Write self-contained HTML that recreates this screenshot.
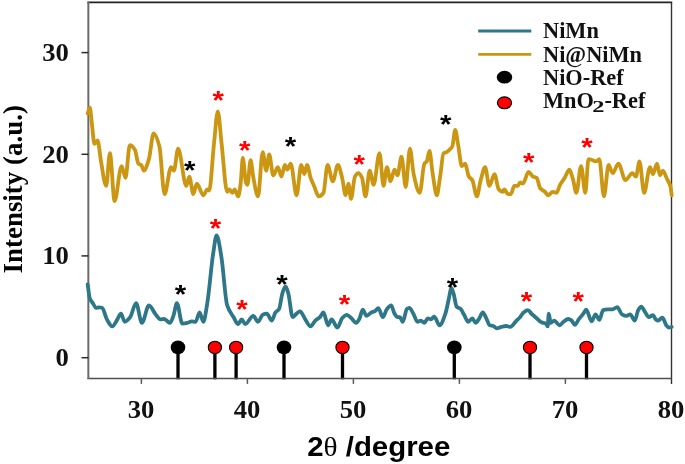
<!DOCTYPE html>
<html><head><meta charset="utf-8"><title>XRD</title>
<style>
html,body{margin:0;padding:0;background:#fff;}
svg{display:block}
text{font-family:"Liberation Serif",serif;font-weight:bold}
.sans{font-family:"Liberation Sans",sans-serif}
</style></head><body>
<svg width="685" height="464" viewBox="0 0 685 464">
<rect width="685" height="464" fill="#fff"/>
<g>
<line x1="178.0" y1="352" x2="178.0" y2="379.3" stroke="#000" stroke-width="3.3"/>
<ellipse cx="178.0" cy="347.4" rx="7.3" ry="6.8" fill="#000"/>
<line x1="214.9" y1="352" x2="214.9" y2="379.3" stroke="#000" stroke-width="3.3"/>
<ellipse cx="214.9" cy="347.4" rx="6.6" ry="6.2" fill="#f00" stroke="#000" stroke-width="1.1"/>
<line x1="236.1" y1="352" x2="236.1" y2="379.3" stroke="#000" stroke-width="3.3"/>
<ellipse cx="236.1" cy="347.4" rx="6.6" ry="6.2" fill="#f00" stroke="#000" stroke-width="1.1"/>
<line x1="284.0" y1="352" x2="284.0" y2="379.3" stroke="#000" stroke-width="3.3"/>
<ellipse cx="284.0" cy="347.4" rx="7.3" ry="6.8" fill="#000"/>
<line x1="342.5" y1="352" x2="342.5" y2="379.3" stroke="#000" stroke-width="3.3"/>
<ellipse cx="342.5" cy="347.4" rx="6.6" ry="6.2" fill="#f00" stroke="#000" stroke-width="1.1"/>
<line x1="454.3" y1="352" x2="454.3" y2="379.3" stroke="#000" stroke-width="3.3"/>
<ellipse cx="454.3" cy="347.4" rx="7.3" ry="6.8" fill="#000"/>
<line x1="530.0" y1="352" x2="530.0" y2="379.3" stroke="#000" stroke-width="3.3"/>
<ellipse cx="530.0" cy="347.4" rx="6.6" ry="6.2" fill="#f00" stroke="#000" stroke-width="1.1"/>
<line x1="586.5" y1="352" x2="586.5" y2="379.3" stroke="#000" stroke-width="3.3"/>
<ellipse cx="586.5" cy="347.4" rx="6.6" ry="6.2" fill="#f00" stroke="#000" stroke-width="1.1"/>
<line x1="87.4" y1="2.4" x2="672.2" y2="2.4" stroke="#222" stroke-width="1.6"/>
<line x1="671.5" y1="2.4" x2="671.5" y2="383.9" stroke="#333" stroke-width="1.4"/>
<line x1="87.4" y1="378.45" x2="671.5" y2="378.45" stroke="#505050" stroke-width="1.4"/>
<line x1="88.35" y1="1.8" x2="88.35" y2="379.1" stroke="#6a6a6a" stroke-width="2"/>
<line x1="141.4" y1="378.3" x2="141.4" y2="383.9" stroke="#5a5a5a" stroke-width="1.5"/>
<line x1="247.4" y1="378.3" x2="247.4" y2="383.9" stroke="#5a5a5a" stroke-width="1.5"/>
<line x1="353.4" y1="378.3" x2="353.4" y2="383.9" stroke="#5a5a5a" stroke-width="1.5"/>
<line x1="459.4" y1="378.3" x2="459.4" y2="383.9" stroke="#5a5a5a" stroke-width="1.5"/>
<line x1="565.4" y1="378.3" x2="565.4" y2="383.9" stroke="#5a5a5a" stroke-width="1.5"/>
<line x1="81.5" y1="357.7" x2="88.4" y2="357.7" stroke="#2a2a2a" stroke-width="1.5"/>
<line x1="81.5" y1="255.9" x2="88.4" y2="255.9" stroke="#2a2a2a" stroke-width="1.5"/>
<line x1="81.5" y1="154.3" x2="88.4" y2="154.3" stroke="#2a2a2a" stroke-width="1.5"/>
<line x1="81.5" y1="52.6" x2="88.4" y2="52.6" stroke="#2a2a2a" stroke-width="1.5"/>
<path d="M87.7 113.5C88.4 111.6 89.1 107.7 89.8 107.7C90.4 107.7 91.1 116.9 91.7 121.7C92.6 128.9 93.5 143.9 94.5 143.9C95.5 143.9 96.5 140.4 97.5 140.4C98.7 140.4 99.9 155.1 101.0 161.4C102.7 170.6 104.4 185.9 106.2 185.9C107.4 185.9 108.7 153.2 109.9 153.2C111.5 153.2 113.0 201.1 114.6 201.1C116.9 201.1 119.2 166.1 121.6 166.1C122.9 166.1 124.2 177.8 125.5 177.8C126.9 177.8 128.4 145.1 129.8 145.1C131.5 145.1 133.2 147.1 134.9 149.7C136.1 151.5 137.2 162.9 138.4 163.7C139.3 164.4 140.3 164.2 141.2 164.9C142.1 165.5 142.9 170.7 143.8 170.7C145.5 170.7 147.2 164.6 148.9 159.1C150.5 154.0 152.0 133.4 153.6 133.4C155.5 133.4 157.5 139.2 159.4 146.2C161.1 152.4 162.8 194.1 164.6 194.1C166.7 194.1 168.9 167.2 171.1 167.2C172.0 167.2 173.0 170.7 173.9 170.7C175.3 170.7 176.7 148.6 178.1 148.6C180.8 148.6 183.6 185.9 186.3 185.9C187.3 185.9 188.3 176.6 189.3 176.6C190.6 176.6 192.0 194.1 193.3 194.1C194.5 194.1 195.6 183.6 196.8 183.6C199.0 183.6 201.1 195.3 203.3 195.3C204.7 195.3 206.0 189.4 207.3 189.4C207.9 189.4 208.5 190.6 209.2 190.6C210.8 190.6 212.4 157.4 214.1 142.7C215.3 131.5 216.6 111.4 217.8 111.4C219.1 111.4 220.3 132.1 221.5 142.7C223.4 158.7 225.3 191.8 227.2 191.8C227.9 191.8 228.7 189.4 229.5 189.4C230.4 189.4 231.4 192.9 232.3 192.9C233.1 192.9 233.9 189.4 234.7 189.4C235.8 189.4 237.0 196.4 238.2 196.4C239.0 196.4 239.7 190.2 240.5 184.8C241.3 179.3 242.1 157.9 242.8 157.9C243.9 157.9 244.9 180.1 245.9 182.4C246.4 183.7 247.0 184.8 247.5 184.8C248.5 184.8 249.5 160.2 250.6 160.2C251.5 160.2 252.4 173.1 253.4 177.8C254.9 185.5 256.5 196.4 258.0 196.4C259.6 196.4 261.1 152.1 262.7 152.1C263.9 152.1 265.0 170.7 266.2 170.7C267.2 170.7 268.2 154.4 269.2 154.4C270.6 154.4 271.9 175.4 273.2 175.4C274.8 175.4 276.3 167.2 277.9 167.2C279.1 167.2 280.2 176.6 281.4 176.6C282.6 176.6 283.7 164.9 284.9 164.9C285.7 164.9 286.4 169.6 287.2 169.6C288.4 169.6 289.6 163.7 290.7 163.7C292.7 163.7 294.6 195.3 296.6 195.3C298.1 195.3 299.7 164.9 301.2 164.9C302.3 164.9 303.3 174.2 304.3 174.2C305.2 174.2 306.1 164.9 307.1 164.9C308.2 164.9 309.4 174.4 310.6 177.8C311.8 181.1 312.9 183.2 314.1 185.9C315.6 189.5 317.2 196.4 318.8 196.4C320.3 196.4 321.9 195.1 323.4 192.9C324.8 191.0 326.2 164.9 327.6 164.9C329.3 164.9 331.1 181.3 332.8 181.3C334.5 181.3 336.2 164.9 337.9 164.9C339.3 164.9 340.7 172.4 342.1 177.8C343.3 182.2 344.5 195.3 345.6 195.3C346.6 195.3 347.5 183.6 348.4 183.6C349.3 183.6 350.1 198.8 351.0 198.8C352.3 198.8 353.6 178.8 355.0 176.6C356.1 174.6 357.3 173.1 358.5 173.1C359.6 173.1 360.8 175.3 362.0 177.8C363.1 180.2 364.3 196.4 365.5 196.4C366.9 196.4 368.3 170.7 369.7 170.7C371.0 170.7 372.3 184.8 373.6 184.8C375.6 184.8 377.5 153.2 379.5 153.2C380.8 153.2 382.2 185.9 383.5 185.9C384.7 185.9 385.8 167.2 387.0 167.2C388.2 167.2 389.3 181.3 390.5 181.3C391.8 181.3 393.2 169.6 394.5 169.6C395.5 169.6 396.5 175.4 397.5 175.4C398.8 175.4 400.2 156.7 401.5 156.7C402.9 156.7 404.3 187.1 405.7 187.1C407.1 187.1 408.5 148.6 409.9 148.6C411.2 148.6 412.5 169.8 413.9 175.4C415.8 183.7 417.8 192.9 419.7 192.9C421.3 192.9 422.8 166.2 424.4 163.7C425.2 162.5 425.9 162.6 426.7 161.4C427.6 160.0 428.6 150.9 429.5 150.9C430.5 150.9 431.5 166.8 432.6 173.1C434.0 181.7 435.4 195.3 436.8 195.3C437.9 195.3 439.1 182.6 440.3 175.4C441.4 168.7 442.4 154.0 443.5 153.2C444.5 152.5 445.6 152.6 446.6 152.1C447.6 151.5 448.6 150.7 449.6 149.7C450.5 148.8 451.5 148.1 452.4 146.2C453.3 144.3 454.3 129.9 455.2 129.9C456.2 129.9 457.2 139.5 458.2 145.1C459.4 151.4 460.6 166.1 461.8 166.1C462.9 166.1 464.1 163.7 465.3 163.7C466.4 163.7 467.6 174.7 468.8 176.6C469.9 178.4 471.1 178.3 472.3 180.1C473.8 182.4 475.4 196.4 476.9 196.4C478.1 196.4 479.3 185.4 480.4 181.3C482.0 175.7 483.6 167.2 485.1 167.2C486.5 167.2 487.9 185.9 489.3 185.9C491.0 185.9 492.7 174.2 494.5 174.2C495.9 174.2 497.3 188.0 498.7 189.4C500.0 190.8 501.3 191.8 502.6 191.8C503.2 191.8 503.7 189.4 504.3 189.4C505.5 189.4 506.8 194.1 508.0 194.1C508.9 194.1 509.9 194.1 510.8 194.1C512.0 194.1 513.1 185.9 514.3 185.9C515.5 185.9 516.6 185.9 517.8 185.9C518.6 185.9 519.4 182.4 520.1 182.4C521.1 182.4 522.0 183.6 522.9 183.6C524.8 183.6 526.7 171.9 528.5 171.9C530.1 171.9 531.6 175.8 533.2 176.6C534.3 177.2 535.5 177.1 536.7 177.8C537.8 178.5 539.0 186.8 540.2 188.3C541.7 190.2 543.3 190.4 544.9 191.8C546.0 192.8 547.2 195.3 548.4 195.3C549.8 195.3 551.2 191.8 552.6 191.8C553.9 191.8 555.2 192.9 556.5 192.9C557.7 192.9 558.9 186.9 560.0 184.8C561.6 181.9 563.2 180.3 564.7 177.8C566.3 175.2 567.8 169.6 569.4 169.6C570.5 169.6 571.7 175.2 572.9 178.9C574.1 182.7 575.2 192.9 576.4 192.9C577.9 192.9 579.5 166.1 581.1 166.1C582.5 166.1 583.9 192.9 585.3 192.9C586.4 192.9 587.4 159.1 588.5 159.1C589.9 159.1 591.3 159.8 592.7 160.2C593.9 160.6 595.1 161.4 596.2 161.4C597.3 161.4 598.3 159.1 599.3 159.1C600.8 159.1 602.4 196.4 603.9 196.4C605.5 196.4 607.1 164.9 608.6 164.9C609.9 164.9 611.3 173.1 612.6 173.1C614.5 173.1 616.5 163.7 618.4 163.7C620.8 163.7 623.1 180.1 625.4 180.1C627.8 180.1 630.1 173.1 632.4 173.1C633.6 173.1 634.8 176.6 635.9 176.6C637.1 176.6 638.3 161.4 639.5 161.4C641.0 161.4 642.6 192.9 644.1 192.9C646.1 192.9 648.0 167.2 650.0 167.2C651.0 167.2 652.0 174.2 653.0 174.2C654.3 174.2 655.6 163.7 657.0 163.7C658.0 163.7 659.0 175.4 660.0 175.4C660.9 175.4 661.9 170.7 662.8 170.7C664.2 170.7 665.6 176.1 667.0 178.9C668.1 181.1 669.2 182.1 670.3 185.9C670.8 187.6 671.2 192.2 671.7 195.3" fill="none" stroke="#CB9712" stroke-width="3.8" stroke-linejoin="round" stroke-linecap="round"/>
<path d="M87.7 284.4C88.4 289.1 89.1 296.6 89.8 298.4C90.8 301.0 91.8 301.5 92.8 303.1C93.9 304.6 94.9 307.8 95.9 307.8C97.0 307.8 98.1 307.3 99.2 307.3C100.2 307.3 101.2 307.5 102.2 307.8C103.7 308.2 105.3 316.7 106.9 319.4C108.7 322.5 110.4 326.4 112.2 326.4C113.9 326.4 115.7 322.0 117.4 319.4C118.5 317.7 119.7 313.6 120.9 313.6C122.2 313.6 123.5 321.8 124.8 321.8C126.6 321.8 128.4 319.4 130.2 317.1C132.2 314.6 134.1 303.1 136.1 303.1C138.0 303.1 140.0 322.9 141.9 322.9C144.2 322.9 146.6 305.4 148.9 305.4C151.2 305.4 153.6 312.1 155.9 314.8C157.5 316.5 159.0 319.4 160.6 319.4C161.8 319.4 162.9 319.0 164.1 319.0C166.0 319.0 168.0 322.9 169.9 322.9C171.1 322.9 172.3 318.9 173.4 315.9C174.6 312.9 175.8 303.1 176.9 303.1C178.7 303.1 180.5 323.6 182.3 323.6C184.0 323.6 185.7 323.3 187.4 322.9C188.8 322.6 190.2 321.3 191.6 321.3C193.0 321.3 194.3 321.8 195.6 321.8C196.9 321.8 198.3 312.4 199.6 312.4C200.8 312.4 202.1 321.8 203.3 321.8C204.7 321.8 206.0 310.9 207.3 303.1C209.2 291.5 211.2 266.5 213.1 254.0C214.3 246.5 215.5 235.3 216.6 235.3C218.2 235.3 219.8 247.3 221.3 256.4C223.3 267.6 225.2 299.5 227.2 305.4C229.3 311.9 231.4 313.6 233.5 317.1C235.1 319.7 236.6 324.1 238.2 324.1C239.3 324.1 240.5 319.4 241.7 319.4C242.8 319.4 244.0 324.1 245.2 324.1C247.9 324.1 250.6 315.9 253.4 315.9C254.9 315.9 256.5 321.8 258.0 321.8C259.6 321.8 261.1 315.5 262.7 314.8C264.1 314.1 265.5 313.6 266.9 313.6C268.5 313.6 270.0 320.6 271.6 320.6C272.9 320.6 274.2 314.2 275.5 312.4C276.7 310.9 277.9 310.8 279.1 308.9C280.2 307.0 281.4 295.9 282.6 292.6C283.6 289.7 284.6 286.3 285.6 286.3C286.5 286.3 287.5 290.4 288.4 293.7C289.8 298.7 291.2 317.1 292.6 317.1C293.9 317.1 295.2 314.6 296.6 313.6C297.7 312.7 298.9 311.3 300.1 311.3C301.6 311.3 303.2 316.0 304.7 318.3C306.7 321.1 308.6 326.4 310.6 326.4C312.1 326.4 313.7 322.1 315.3 320.6C316.8 319.1 318.4 318.6 319.9 317.1C321.1 316.0 322.3 312.4 323.4 312.4C325.0 312.4 326.5 325.3 328.1 325.3C329.3 325.3 330.4 319.4 331.6 319.4C333.6 319.4 335.5 327.6 337.4 327.6C339.0 327.6 340.6 320.0 342.1 318.3C343.7 316.6 345.2 314.8 346.8 314.8C348.3 314.8 349.9 316.9 351.5 318.3C353.0 319.6 354.6 322.9 356.1 322.9C357.3 322.9 358.5 320.4 359.6 318.3C360.6 316.4 361.7 309.6 362.7 309.6C364.0 309.6 365.3 315.9 366.6 315.9C368.2 315.9 369.8 313.1 371.3 312.4C372.5 311.9 373.6 311.8 374.8 311.3C376.0 310.7 377.2 308.2 378.3 308.2C379.8 308.2 381.3 317.1 382.8 317.1C384.2 317.1 385.6 310.6 387.0 308.9C388.4 307.3 389.8 305.4 391.2 305.4C392.3 305.4 393.4 311.9 394.5 313.6C395.5 315.2 396.5 317.1 397.5 317.1C398.3 317.1 399.1 317.1 399.9 317.1C400.8 317.1 401.7 321.8 402.7 321.8C404.1 321.8 405.5 310.0 406.9 308.9C407.6 308.3 408.4 307.8 409.2 307.8C410.8 307.8 412.3 312.1 413.9 314.8C415.0 316.8 416.2 321.8 417.4 321.8C418.5 321.8 419.7 320.6 420.9 320.6C422.0 320.6 423.2 322.9 424.4 322.9C425.5 322.9 426.7 318.3 427.9 318.3C428.9 318.3 429.9 319.4 430.9 319.4C432.0 319.4 433.1 316.6 434.2 316.6C436.0 316.6 437.8 325.3 439.6 325.3C441.5 325.3 443.5 319.1 445.4 313.6C446.6 310.3 447.7 303.6 448.9 298.4C449.7 295.0 450.5 287.9 451.2 287.9C452.0 287.9 452.8 291.3 453.6 293.7C454.6 296.9 455.6 305.5 456.6 306.6C457.9 308.0 459.3 307.8 460.6 308.9C461.8 309.9 462.9 312.8 464.1 314.8C465.5 317.1 466.9 321.8 468.3 321.8C469.6 321.8 470.9 318.3 472.3 318.3C473.4 318.3 474.6 322.9 475.8 322.9C476.9 322.9 478.1 320.0 479.3 318.3C480.4 316.5 481.6 312.4 482.8 312.4C483.9 312.4 485.1 316.1 486.3 318.3C487.4 320.4 488.6 324.8 489.8 325.3C490.9 325.7 492.1 325.6 493.3 326.0C494.5 326.3 495.6 328.3 496.8 328.3C498.3 328.3 499.9 327.3 501.5 326.9C503.0 326.5 504.6 326.0 506.1 326.0C507.5 326.0 508.9 326.9 510.3 326.9C512.0 326.9 513.8 323.5 515.5 321.8C517.0 320.2 518.6 318.9 520.1 317.1C521.3 315.8 522.5 313.4 523.6 312.4C525.0 311.3 526.4 310.1 527.8 310.1C529.2 310.1 530.6 313.0 532.0 314.3C533.6 315.7 535.1 316.9 536.7 318.3C538.2 319.6 539.8 321.5 541.4 322.2C542.9 322.9 544.5 322.7 546.0 323.6C546.6 323.9 547.1 326.4 547.7 326.4C548.0 326.4 548.4 313.6 548.8 313.6C549.4 313.6 550.1 322.9 550.7 322.9C551.9 322.9 553.0 320.6 554.2 320.6C556.0 320.6 557.8 325.3 559.6 325.3C560.9 325.3 562.2 322.7 563.5 321.8C565.1 320.6 566.7 319.0 568.2 319.0C569.4 319.0 570.5 319.8 571.7 320.6C572.7 321.3 573.7 324.8 574.8 324.8C576.1 324.8 577.4 321.2 578.7 319.4C580.3 317.4 581.8 315.7 583.4 313.6C584.3 312.3 585.3 309.6 586.2 309.6C588.0 309.6 589.8 321.3 591.6 321.3C592.9 321.3 594.2 314.3 595.5 314.3C596.8 314.3 598.0 319.9 599.3 319.9C600.6 319.9 601.9 310.5 603.2 310.1C604.8 309.6 606.4 309.4 607.9 309.4C609.5 309.4 611.0 309.4 612.6 309.4C614.1 309.4 615.7 307.1 617.3 307.1C618.8 307.1 620.4 313.4 621.9 314.3C623.5 315.2 625.0 315.9 626.6 315.9C627.8 315.9 628.9 314.3 630.1 314.3C631.7 314.3 633.2 320.6 634.8 320.6C635.9 320.6 637.1 312.0 638.3 310.1C639.3 308.4 640.3 306.6 641.3 306.6C642.4 306.6 643.5 309.7 644.6 311.3C646.0 313.2 647.4 317.1 648.8 317.1C650.2 317.1 651.6 315.2 653.0 315.2C653.9 315.2 654.9 318.7 655.8 319.4C656.6 320.0 657.4 320.6 658.1 320.6C659.5 320.6 660.9 317.6 662.3 317.6C663.7 317.6 665.0 323.6 666.3 325.3C667.1 326.3 667.9 327.6 668.6 327.6C669.7 327.6 670.7 327.1 671.7 326.9" fill="none" stroke="#2E7789" stroke-width="3.8" stroke-linejoin="round" stroke-linecap="round"/>
<text transform="translate(141.1 417.7) scale(1.050 1)" text-anchor="middle" font-size="25.4" fill="#111">30</text>
<text transform="translate(247.1 417.7) scale(1.050 1)" text-anchor="middle" font-size="25.4" fill="#111">40</text>
<text transform="translate(353.1 417.7) scale(1.050 1)" text-anchor="middle" font-size="25.4" fill="#111">50</text>
<text transform="translate(459.1 417.7) scale(1.050 1)" text-anchor="middle" font-size="25.4" fill="#111">60</text>
<text transform="translate(565.1 417.7) scale(1.050 1)" text-anchor="middle" font-size="25.4" fill="#111">70</text>
<text transform="translate(671.1 417.7) scale(1.050 1)" text-anchor="middle" font-size="25.4" fill="#111">80</text>
<text transform="translate(68.8 366.1) scale(1.050 1)" text-anchor="end" font-size="25.4" fill="#111">0</text>
<text transform="translate(68.8 264.3) scale(1.050 1)" text-anchor="end" font-size="25.4" fill="#111">10</text>
<text transform="translate(68.8 162.7) scale(1.050 1)" text-anchor="end" font-size="25.4" fill="#111">20</text>
<text transform="translate(68.8 61.0) scale(1.050 1)" text-anchor="end" font-size="25.4" fill="#111">30</text>
<text transform="translate(378.7 455.6) scale(1.05 1)" text-anchor="middle" font-size="28" class="sans">2<tspan font-family="Liberation Serif" font-weight="normal">θ</tspan> /degree</text>
<text transform="translate(21.6 189.3) rotate(-90) scale(0.98 1)" text-anchor="middle" font-size="27.5">Intensity (a.u.)</text>
<line x1="478.2" y1="31" x2="531.3" y2="31" stroke="#2E7789" stroke-width="2.8"/>
<line x1="478.2" y1="54.4" x2="531.3" y2="54.4" stroke="#CB9712" stroke-width="2.8"/>
<ellipse cx="504.5" cy="77.2" rx="7.7" ry="6.4" fill="#000"/>
<ellipse cx="504.5" cy="102.8" rx="7.1" ry="5.9" fill="#f00" stroke="#000" stroke-width="1.1"/>
<text transform="translate(543.0 38.2) scale(0.990 1)" text-anchor="start" font-size="22.6" fill="#111">NiMn</text>
<text transform="translate(543.0 61.5) scale(0.990 1)" text-anchor="start" font-size="22.6" fill="#111">Ni@NiMn</text>
<text transform="translate(543.0 84.9) scale(0.990 1)" text-anchor="start" font-size="22.6" fill="#111">NiO-Ref</text>
<text transform="translate(543.0 108.2) scale(0.990 1)" text-anchor="start" font-size="22.6" fill="#111">MnO</text>
<text transform="translate(598.3 112.0) scale(1.400 1)" text-anchor="middle" font-size="17.5" fill="#111">2</text>
<text transform="translate(604.4 108.2) scale(0.990 1)" text-anchor="start" font-size="22.6" fill="#111">-Ref</text>
<text transform="translate(218.3 108.6) scale(1.130 1)" text-anchor="middle" font-size="26.0" class="sans" fill="#f00">*</text>
<text transform="translate(244.6 158.7) scale(1.130 1)" text-anchor="middle" font-size="26.0" class="sans" fill="#f00">*</text>
<text transform="translate(290.4 155.2) scale(1.130 1)" text-anchor="middle" font-size="26.0" class="sans" fill="#000">*</text>
<text transform="translate(189.8 178.5) scale(1.130 1)" text-anchor="middle" font-size="26.0" class="sans" fill="#000">*</text>
<text transform="translate(359.3 173.4) scale(1.130 1)" text-anchor="middle" font-size="26.0" class="sans" fill="#f00">*</text>
<text transform="translate(445.6 133.3) scale(1.130 1)" text-anchor="middle" font-size="26.0" class="sans" fill="#000">*</text>
<text transform="translate(528.8 171.0) scale(1.130 1)" text-anchor="middle" font-size="26.0" class="sans" fill="#f00">*</text>
<text transform="translate(587.0 155.9) scale(1.130 1)" text-anchor="middle" font-size="26.0" class="sans" fill="#f00">*</text>
<text transform="translate(215.4 236.9) scale(1.130 1)" text-anchor="middle" font-size="26.0" class="sans" fill="#f00">*</text>
<text transform="translate(180.4 302.9) scale(1.130 1)" text-anchor="middle" font-size="26.0" class="sans" fill="#000">*</text>
<text transform="translate(242.0 318.1) scale(1.130 1)" text-anchor="middle" font-size="26.0" class="sans" fill="#f00">*</text>
<text transform="translate(281.9 292.5) scale(1.130 1)" text-anchor="middle" font-size="26.0" class="sans" fill="#000">*</text>
<text transform="translate(344.4 313.4) scale(1.130 1)" text-anchor="middle" font-size="26.0" class="sans" fill="#f00">*</text>
<text transform="translate(452.5 296.1) scale(1.130 1)" text-anchor="middle" font-size="26.0" class="sans" fill="#000">*</text>
<text transform="translate(526.4 310.2) scale(1.130 1)" text-anchor="middle" font-size="26.0" class="sans" fill="#f00">*</text>
<text transform="translate(578.2 310.4) scale(1.130 1)" text-anchor="middle" font-size="26.0" class="sans" fill="#f00">*</text>
</g></svg></body></html>
